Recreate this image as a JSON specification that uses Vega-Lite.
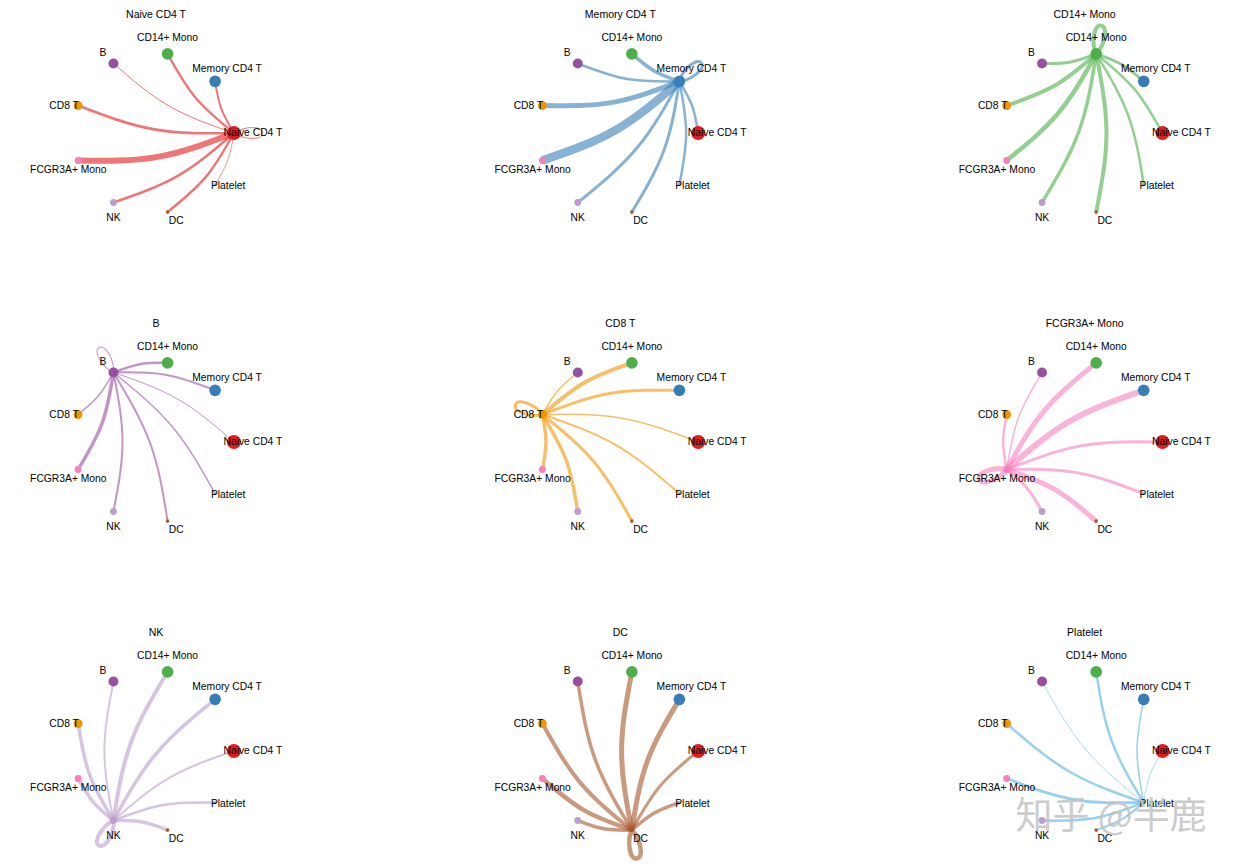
{
  "$schema": "https://vega.github.io/schema/vega-lite/v6.json",
  "padding": {"top": 3, "left": 5, "right": 5, "bottom": 2},
  "background": "white",
  "datasets": {
    "nodes": [
      {"name": "Naive CD4 T", "k": 1, "n": 697, "x": 1.0, "y": 0.0},
      {"name": "Memory CD4 T", "k": 2, "n": 483, "x": 0.766, "y": 0.643},
      {"name": "CD14+ Mono", "k": 3, "n": 480, "x": 0.174, "y": 0.985},
      {"name": "B", "k": 4, "n": 344, "x": -0.5, "y": 0.866},
      {"name": "CD8 T", "k": 5, "n": 271, "x": -0.94, "y": 0.342},
      {"name": "FCGR3A+ Mono", "k": 6, "n": 162, "x": -0.94, "y": -0.342},
      {"name": "NK", "k": 7, "n": 155, "x": -0.5, "y": -0.866},
      {"name": "DC", "k": 8, "n": 32, "x": 0.174, "y": -0.985},
      {"name": "Platelet", "k": 9, "n": 14, "x": 0.766, "y": -0.643}
    ],
    "edges": [
      {"src": "Naive CD4 T", "tgt": "Naive CD4 T", "w": 1.0},
      {"src": "Naive CD4 T", "tgt": "Memory CD4 T", "w": 2.0},
      {"src": "Naive CD4 T", "tgt": "CD14+ Mono", "w": 2.3},
      {"src": "Naive CD4 T", "tgt": "B", "w": 1.0},
      {"src": "Naive CD4 T", "tgt": "CD8 T", "w": 2.7},
      {"src": "Naive CD4 T", "tgt": "FCGR3A+ Mono", "w": 6.0},
      {"src": "Naive CD4 T", "tgt": "NK", "w": 2.5},
      {"src": "Naive CD4 T", "tgt": "DC", "w": 2.5},
      {"src": "Naive CD4 T", "tgt": "Platelet", "w": 0.8},

      {"src": "Memory CD4 T", "tgt": "Naive CD4 T", "w": 2.5},
      {"src": "Memory CD4 T", "tgt": "Memory CD4 T", "w": 3.0},
      {"src": "Memory CD4 T", "tgt": "CD14+ Mono", "w": 3.5},
      {"src": "Memory CD4 T", "tgt": "B", "w": 2.5},
      {"src": "Memory CD4 T", "tgt": "CD8 T", "w": 5.0},
      {"src": "Memory CD4 T", "tgt": "FCGR3A+ Mono", "w": 8.5},
      {"src": "Memory CD4 T", "tgt": "NK", "w": 3.0},
      {"src": "Memory CD4 T", "tgt": "DC", "w": 3.0},
      {"src": "Memory CD4 T", "tgt": "Platelet", "w": 2.5},

      {"src": "CD14+ Mono", "tgt": "Naive CD4 T", "w": 2.5},
      {"src": "CD14+ Mono", "tgt": "Memory CD4 T", "w": 3.0},
      {"src": "CD14+ Mono", "tgt": "CD14+ Mono", "w": 4.0},
      {"src": "CD14+ Mono", "tgt": "B", "w": 3.0},
      {"src": "CD14+ Mono", "tgt": "CD8 T", "w": 4.0},
      {"src": "CD14+ Mono", "tgt": "FCGR3A+ Mono", "w": 4.5},
      {"src": "CD14+ Mono", "tgt": "NK", "w": 3.5},
      {"src": "CD14+ Mono", "tgt": "DC", "w": 4.0},
      {"src": "CD14+ Mono", "tgt": "Platelet", "w": 2.5},

      {"src": "B", "tgt": "Naive CD4 T", "w": 1.0},
      {"src": "B", "tgt": "Memory CD4 T", "w": 2.0},
      {"src": "B", "tgt": "CD14+ Mono", "w": 2.5},
      {"src": "B", "tgt": "B", "w": 1.0},
      {"src": "B", "tgt": "CD8 T", "w": 1.5},
      {"src": "B", "tgt": "FCGR3A+ Mono", "w": 3.5},
      {"src": "B", "tgt": "NK", "w": 2.0},
      {"src": "B", "tgt": "DC", "w": 2.0},
      {"src": "B", "tgt": "Platelet", "w": 1.5},

      {"src": "CD8 T", "tgt": "Naive CD4 T", "w": 1.5},
      {"src": "CD8 T", "tgt": "Memory CD4 T", "w": 3.0},
      {"src": "CD8 T", "tgt": "CD14+ Mono", "w": 4.0},
      {"src": "CD8 T", "tgt": "B", "w": 1.5},
      {"src": "CD8 T", "tgt": "CD8 T", "w": 3.0},
      {"src": "CD8 T", "tgt": "FCGR3A+ Mono", "w": 3.5},
      {"src": "CD8 T", "tgt": "NK", "w": 3.5},
      {"src": "CD8 T", "tgt": "DC", "w": 3.0},
      {"src": "CD8 T", "tgt": "Platelet", "w": 2.0},

      {"src": "FCGR3A+ Mono", "tgt": "Naive CD4 T", "w": 3.0},
      {"src": "FCGR3A+ Mono", "tgt": "Memory CD4 T", "w": 6.0},
      {"src": "FCGR3A+ Mono", "tgt": "CD14+ Mono", "w": 5.0},
      {"src": "FCGR3A+ Mono", "tgt": "B", "w": 1.5},
      {"src": "FCGR3A+ Mono", "tgt": "CD8 T", "w": 2.5},
      {"src": "FCGR3A+ Mono", "tgt": "FCGR3A+ Mono", "w": 5.0},
      {"src": "FCGR3A+ Mono", "tgt": "NK", "w": 3.0},
      {"src": "FCGR3A+ Mono", "tgt": "DC", "w": 5.0},
      {"src": "FCGR3A+ Mono", "tgt": "Platelet", "w": 3.0},

      {"src": "NK", "tgt": "Naive CD4 T", "w": 2.0},
      {"src": "NK", "tgt": "Memory CD4 T", "w": 3.5},
      {"src": "NK", "tgt": "CD14+ Mono", "w": 4.0},
      {"src": "NK", "tgt": "B", "w": 2.0},
      {"src": "NK", "tgt": "CD8 T", "w": 3.5},
      {"src": "NK", "tgt": "FCGR3A+ Mono", "w": 3.5},
      {"src": "NK", "tgt": "NK", "w": 4.0},
      {"src": "NK", "tgt": "DC", "w": 3.5},
      {"src": "NK", "tgt": "Platelet", "w": 2.5},

      {"src": "DC", "tgt": "Naive CD4 T", "w": 3.0},
      {"src": "DC", "tgt": "Memory CD4 T", "w": 5.0},
      {"src": "DC", "tgt": "CD14+ Mono", "w": 5.0},
      {"src": "DC", "tgt": "B", "w": 3.5},
      {"src": "DC", "tgt": "CD8 T", "w": 4.0},
      {"src": "DC", "tgt": "FCGR3A+ Mono", "w": 4.5},
      {"src": "DC", "tgt": "NK", "w": 3.5},
      {"src": "DC", "tgt": "DC", "w": 4.5},
      {"src": "DC", "tgt": "Platelet", "w": 3.5},

      {"src": "Platelet", "tgt": "Naive CD4 T", "w": 0.8},
      {"src": "Platelet", "tgt": "Memory CD4 T", "w": 1.5},
      {"src": "Platelet", "tgt": "CD14+ Mono", "w": 2.5},
      {"src": "Platelet", "tgt": "B", "w": 0.8},
      {"src": "Platelet", "tgt": "CD8 T", "w": 2.5},
      {"src": "Platelet", "tgt": "FCGR3A+ Mono", "w": 3.0},
      {"src": "Platelet", "tgt": "NK", "w": 2.5},
      {"src": "Platelet", "tgt": "DC", "w": 2.0},
      {"src": "Platelet", "tgt": "Platelet", "w": 0}
    ]
  },
  "data": {"name": "edges"},
  "transform": [
    {"lookup": "tgt", "from": {"data": {"name": "nodes"}, "key": "name", "fields": ["x", "y", "n", "k"]}},
    {"lookup": "src", "from": {"data": {"name": "nodes"}, "key": "name", "fields": ["x", "y"]}, "as": ["sx", "sy"]}
  ],
  "facet": {
    "field": "src",
    "type": "nominal",
    "sort": ["Naive CD4 T", "Memory CD4 T", "CD14+ Mono", "B", "CD8 T", "FCGR3A+ Mono", "NK", "DC", "Platelet"],
    "header": {"title": null, "labelExpr": "''", "labelFontSize": 0, "labelPadding": 0, "labelColor": "transparent"}
  },
  "columns": 3,
  "spacing": {"row": 62, "column": 166.3},
  "spec": {
    "width": 297.2,
    "height": 240,
    "encoding": {
      "x": {"field": "x", "type": "quantitative", "scale": {"domain": [-1.8506, 1.8506], "nice": false, "zero": false}, "axis": null},
      "y": {"field": "y", "type": "quantitative", "scale": {"domain": [-1.37, 1.619], "nice": false, "zero": false}, "axis": null}
    },
    "layer": [
      {
        "transform": [
          {"filter": "datum.w > 0 && datum.src !== datum.tgt"},
          {"calculate": "(datum.sx + datum.x) / 2 - 0.065 * (datum.y - datum.sy)", "as": "mx"},
          {"calculate": "(datum.sy + datum.y) / 2 + 0.065 * (datum.x - datum.sx)", "as": "my"},
          {"calculate": "[datum.sx, datum.mx, datum.x]", "as": "px"},
          {"calculate": "[datum.sy, datum.my, datum.y]", "as": "py"},
          {"calculate": "[0, 1, 2]", "as": "pi"},
          {"flatten": ["px", "py", "pi"], "as": ["x", "y", "ei"]}
        ],
        "mark": {"type": "line", "interpolate": "natural", "opacity": 0.6, "strokeCap": "butt"},
        "encoding": {
          "detail": {"field": "tgt"},
          "order": {"field": "ei", "type": "quantitative"},
          "color": {"field": "src", "type": "nominal", "legend": null,
            "scale": {"domain": ["Naive CD4 T", "Memory CD4 T", "CD14+ Mono", "B", "CD8 T", "FCGR3A+ Mono", "NK", "DC", "Platelet"],
                      "range": ["#E41A1C", "#377EB8", "#4DAF4A", "#984EA3", "#F29403", "#F781BF", "#BC9DCC", "#A65628", "#54B0E4"]}},
          "strokeWidth": {"field": "w", "type": "quantitative", "legend": null, "scale": {"domain": [0, 8], "range": [0, 8]}}
        }
      },
      {
        "transform": [{"filter": "datum.w > 0 && datum.src === datum.tgt"}],
        "mark": {"type": "point", "shape": "M0,0 C0.3,-0.22 1,-0.28 1,0 C1,0.28 0.3,0.22 0,0", "filled": false, "size": 3300, "opacity": 0.6},
        "encoding": {
          "angle": {"field": "k", "type": "quantitative", "scale": {"domain": [1, 9], "range": [360, 40]}},
          "color": {"field": "src", "type": "nominal", "legend": null,
            "scale": {"domain": ["Naive CD4 T", "Memory CD4 T", "CD14+ Mono", "B", "CD8 T", "FCGR3A+ Mono", "NK", "DC", "Platelet"],
                      "range": ["#E41A1C", "#377EB8", "#4DAF4A", "#984EA3", "#F29403", "#F781BF", "#BC9DCC", "#A65628", "#54B0E4"]}},
          "strokeWidth": {"field": "w", "type": "quantitative", "legend": null, "scale": {"domain": [0, 8], "range": [0, 8]}}
        }
      },
      {
        "mark": {"type": "point", "filled": true, "opacity": 1, "strokeWidth": 0},
        "encoding": {
          "color": {"field": "tgt", "type": "nominal", "legend": null,
            "scale": {"domain": ["Naive CD4 T", "Memory CD4 T", "CD14+ Mono", "B", "CD8 T", "FCGR3A+ Mono", "NK", "DC", "Platelet"],
                      "range": ["#E41A1C", "#377EB8", "#4DAF4A", "#984EA3", "#F29403", "#F781BF", "#BC9DCC", "#A65628", "#54B0E4"]}},
          "size": {"field": "n", "type": "quantitative", "legend": null, "scale": {"domain": [14, 697], "range": [8, 195], "zero": false}}
        }
      },
      {"transform": [{"filter": "datum.tgt === 'Naive CD4 T'"}], "mark": {"type": "text", "dx": 19, "dy": 0, "font": "Liberation Sans", "fontSize": 10.3, "color": "#000000", "align": "center", "baseline": "middle"}, "encoding": {"text": {"field": "tgt"}}},
      {"transform": [{"filter": "datum.tgt === 'Memory CD4 T'"}], "mark": {"type": "text", "dx": 12, "dy": -12, "font": "Liberation Sans", "fontSize": 10.3, "color": "#000000", "align": "center", "baseline": "middle"}, "encoding": {"text": {"field": "tgt"}}},
      {"transform": [{"filter": "datum.tgt === 'CD14+ Mono'"}], "mark": {"type": "text", "dx": 0, "dy": -15.5, "font": "Liberation Sans", "fontSize": 10.3, "color": "#000000", "align": "center", "baseline": "middle"}, "encoding": {"text": {"field": "tgt"}}},
      {"transform": [{"filter": "datum.tgt === 'B'"}], "mark": {"type": "text", "dx": -10.5, "dy": -10.5, "font": "Liberation Sans", "fontSize": 10.3, "color": "#000000", "align": "center", "baseline": "middle"}, "encoding": {"text": {"field": "tgt"}}},
      {"transform": [{"filter": "datum.tgt === 'CD8 T'"}], "mark": {"type": "text", "dx": -14, "dy": 0, "font": "Liberation Sans", "fontSize": 10.3, "color": "#000000", "align": "center", "baseline": "middle"}, "encoding": {"text": {"field": "tgt"}}},
      {"transform": [{"filter": "datum.tgt === 'FCGR3A+ Mono'"}], "mark": {"type": "text", "dx": -9.8, "dy": 10, "font": "Liberation Sans", "fontSize": 10.3, "color": "#000000", "align": "center", "baseline": "middle"}, "encoding": {"text": {"field": "tgt"}}},
      {"transform": [{"filter": "datum.tgt === 'NK'"}], "mark": {"type": "text", "dx": 0, "dy": 15, "font": "Liberation Sans", "fontSize": 10.3, "color": "#000000", "align": "center", "baseline": "middle"}, "encoding": {"text": {"field": "tgt"}}},
      {"transform": [{"filter": "datum.tgt === 'DC'"}], "mark": {"type": "text", "dx": 8.7, "dy": 9, "font": "Liberation Sans", "fontSize": 10.3, "color": "#000000", "align": "center", "baseline": "middle"}, "encoding": {"text": {"field": "tgt"}}},
      {"transform": [{"filter": "datum.tgt === 'Platelet'"}], "mark": {"type": "text", "dx": 13, "dy": 1, "font": "Liberation Sans", "fontSize": 10.3, "color": "#000000", "align": "center", "baseline": "middle"}, "encoding": {"text": {"field": "tgt"}}},
      {
        "transform": [{"filter": "datum.src === datum.tgt"}],
        "mark": {"type": "text", "font": "Liberation Sans", "fontSize": 10.5, "color": "#000000", "align": "center", "baseline": "middle"},
        "encoding": {
          "x": {"datum": 0.03, "type": "quantitative"},
          "y": {"datum": 1.47, "type": "quantitative"},
          "text": {"field": "src"}
        }
      },
      {
        "transform": [{"filter": "datum.src === 'Platelet' && datum.tgt === 'Platelet'"}],
        "mark": {"type": "text", "font": "Noto Sans CJK SC", "fontSize": 37, "color": "#c4c4c4", "opacity": 0.85, "align": "center", "baseline": "middle"},
        "encoding": {
          "x": {"datum": 0.36, "type": "quantitative"},
          "y": {"datum": -0.834, "type": "quantitative"},
          "text": {"value": "知乎 @半鹿"}
        }
      }
    ]
  },
  "config": {"view": {"stroke": null}}
}
